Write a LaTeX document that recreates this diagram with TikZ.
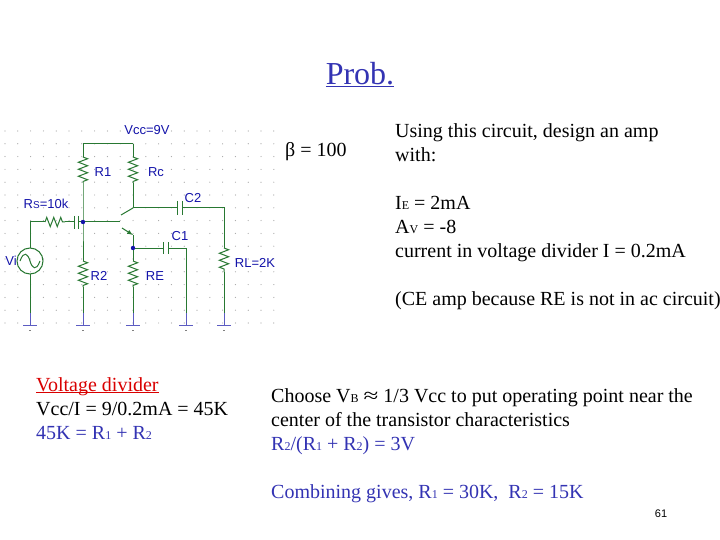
\documentclass[tikz,border=0pt]{standalone}
\usepackage{fontspec}
\setmainfont{Liberation Serif}
\newfontfamily\labelfont{Liberation Sans}
\usetikzlibrary{decorations.pathmorphing}
\definecolor{slideblue}{RGB}{51,51,179}
\definecolor{wiregreen}{RGB}{40,120,50}
\definecolor{partblue}{RGB}{20,20,170}
\newcommand{\low}[1]{{\fontsize{12}{12}\selectfont #1}}
\newcommand{\under}[1]{\underline{\smash{#1}}}
\tikzset{
    wire/.style = {wiregreen,line width=1pt},
    res/.style = {wire,decorate,decoration={zigzag,amplitude=4.6pt,segment length=7pt}},
    part/.style = {inner sep=0pt,text=partblue,font=\labelfont\fontsize{13}{13}\selectfont},
    body/.style = {inner sep=0pt,align=left,anchor=north west,font=\fontsize{20}{24}\selectfont},
    gnd/.style = {slideblue!80,line width=.9pt}
}
\begin{document}
\begin{tikzpicture}[x=1pt,y=-1pt]
    \useasboundingbox (0,0) rectangle (720,540);
    \fill [white] (0,0) rectangle (720,540);
    \foreach \i in {0,...,21}
        \foreach \j in {0,...,15}
            \fill [black!35] (5+12.8*\i,131+12.8*\j) circle (.6);
    % circuit points
    \coordinate (vi) at (30,261);
    \coordinate (corner) at (30,222);
    \coordinate (base) at (83,222);
    \coordinate (basein) at (120,222);
    \coordinate (vccl) at (83,144);
    \coordinate (vccr) at (133,144);
    \coordinate (coll) at (133,208);
    \coordinate (emit) at (133,248);
    \coordinate (out) at (224,208);
    \coordinate (cone) at (186,248);
    % supply and resistors
    \draw [wire] (vccl) -- (vccr);
    \draw [wire] (vccl) -- (83,157);
    \draw [res] (83,157) -- (83,183);
    \draw [wire] (83,183) -- (base) -- (83,261);
    \draw [res] (83,261) -- (83,287);
    \draw [wire] (83,287) -- (83,325);
    \draw [wire] (vccr) -- (133,157);
    \draw [res] (133,157) -- (133,183);
    \draw [wire] (133,183) -- (coll);
    \draw [wire] (emit) -- (133,261);
    \draw [res] (133,261) -- (133,287);
    \draw [wire] (133,287) -- (133,325);
    % source side
    \draw [wire] (vi) ++(0,-13) -- (corner) -- (45,222);
    \draw [res] (45,222) -- (65,222);
    \draw [wire] (65,222) -- (74,222);
    \draw [wire] (74,216) -- (74,229);
    \draw [wire] (78,216) -- (78,229);
    \draw [wire] (78,222) -- (basein);
    \draw [wire] (vi) ++(0,13) -- (30,325);
    \draw [wire] (vi) circle (13);
    \draw [wire] (20,261) .. controls (24,250) and (28,254) .. (30,261)
                          .. controls (32,268) and (36,272) .. (40,261);
    % transistor
    \draw [wire] (coll) -- (121,215);
    \draw [wire,-latex] (122,228) -- (133,235);
    \draw [wire] (133,235) -- (emit);
    % coupling caps
    \draw [wire] (coll) -- (177,208) (182,208) -- (out) -- (224,248);
    \draw [wire] (177,201) -- (177,215) (182,201) -- (182,215);
    \draw [res] (224,248) -- (224,272);
    \draw [wire] (224,272) -- (224,325);
    \draw [wire] (emit) -- (163,248) (168,248) -- (cone) -- (186,325);
    \draw [wire] (163,242) -- (163,254) (168,242) -- (168,254);
    \fill [partblue] (base) circle (2.2) (emit) circle (2.2);
    % grounds
    \foreach \x in {30,83,133,186,224} {
        \draw [gnd] (\x,313) -- (\x,325);
        \draw [gnd] (\x-7,325) -- (\x+7,325);
        \fill [black!50] (\x-1,330) rectangle (\x+1,331);
    }
    % circuit labels
    \node [part] (vcc) at (147,130) {Vcc=9V};
    \node [part] (r1) at (103,172) {R1};
    \node [part] (rc) at (156,172) {Rc};
    \node [part] (rs) at (46,204) {R\low{\fontsize{10}{10}\selectfont S}=10k};
    \node [part] (c2) at (193,198) {C2};
    \node [part] (c1) at (180,236) {C1};
    \node [part] (vilabel) at (11,261) {Vi};
    \node [part] (r2) at (99,276) {R2};
    \node [part] (re) at (155,276) {RE};
    \node [part] (rl) at (255,263) {RL=2K};
    % slide text
    \node [inner sep=0pt,text=slideblue,font=\fontsize{32}{32}\selectfont] (title) at (360,86) {\under{Prob.}};
    \node [inner sep=0pt,anchor=west,font=\fontsize{20}{24}\selectfont] (beta) at (285,152) {β = 100};
    \node [body] (task) at (395,123) {Using this circuit, design an amp\\with:\\[24pt]
        I\low{E} = 2mA\\A\low{V} = -8\\current in voltage divider I = 0.2mA\\[24pt]
        (CE amp because RE is not in ac circuit)};
    \node [body] (divider) at (36,391) {\textcolor{red!85!black}{\under{Voltage divider}}\\Vcc/I = 9/0.2mA = 45K\\
        \textcolor{slideblue}{45K = R\low{1} + R\low{2}}};
    \node [body] (choose) at (271,388) {Choose V\low{B} \scalebox{1.35}[1]{≈} 1/3 Vcc to put operating point near the\\center of the transistor characteristics\\
        \textcolor{slideblue}{R\low{2}/(R\low{1} + R\low{2}) = 3V}\\[24pt]
        \textcolor{slideblue}{Combining gives, R\low{1} = 30K,\ \ R\low{2} = 15K}};
    \node [inner sep=0pt,font=\labelfont\fontsize{11}{11}\selectfont] (page) at (661,514) {61};
\end{tikzpicture}
\end{document}
